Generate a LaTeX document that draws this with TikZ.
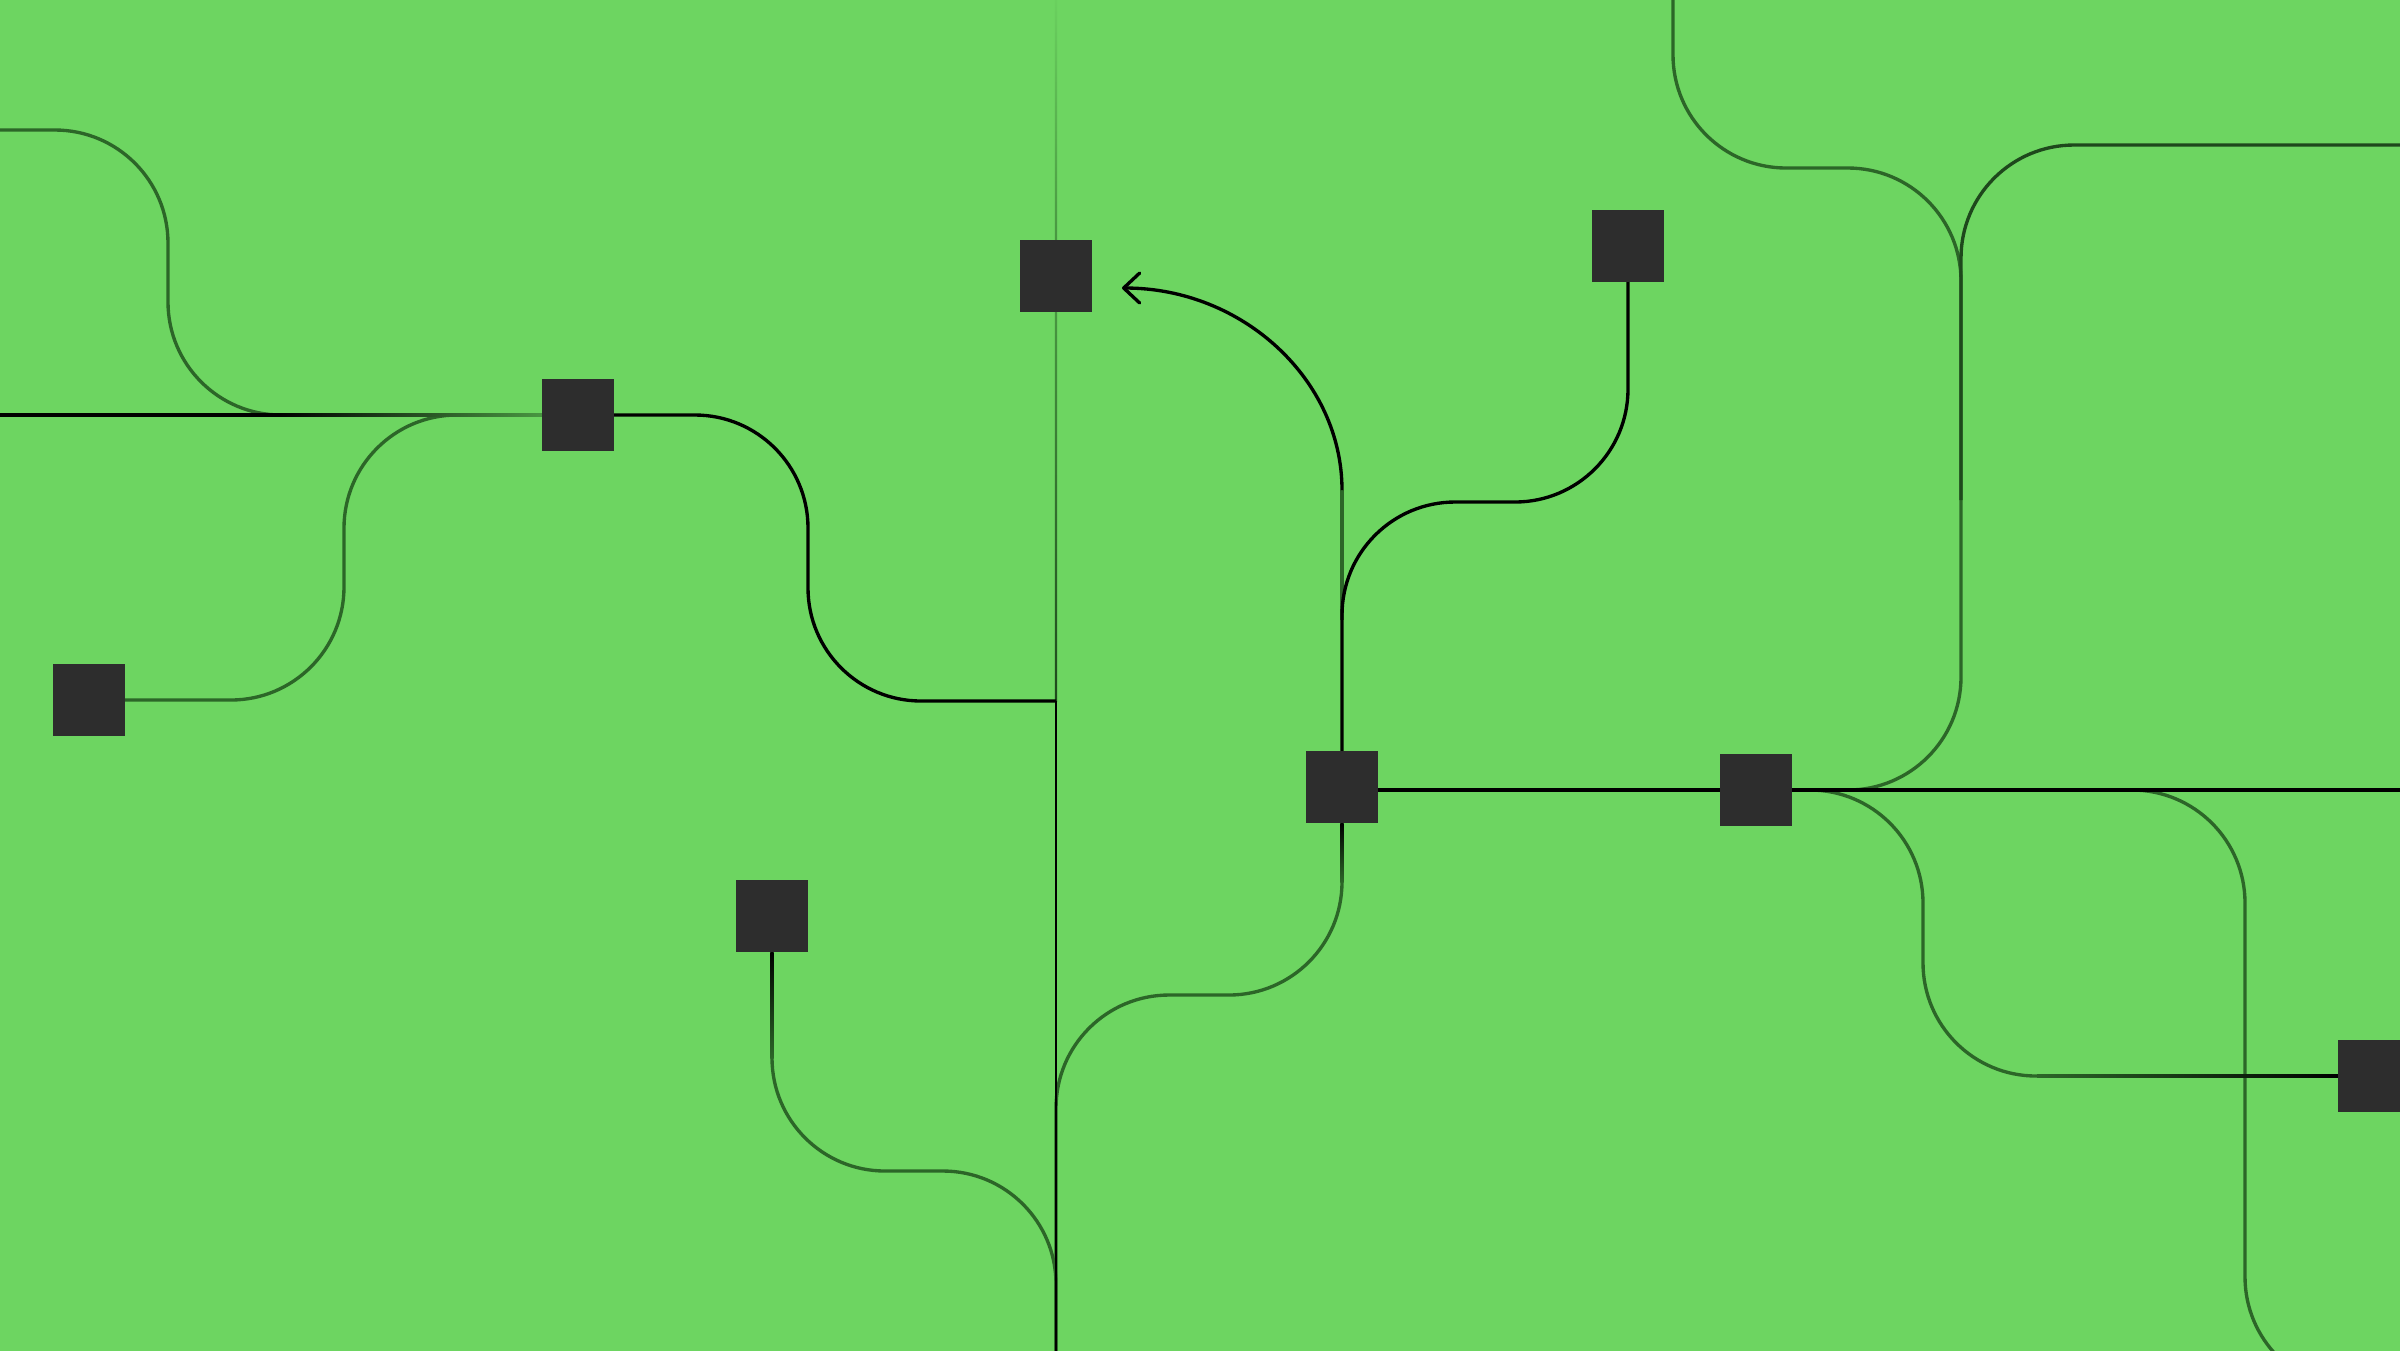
\documentclass[tikz,border=0pt]{standalone}
\usetikzlibrary{arrows.meta}
\definecolor{bg}{RGB}{109,213,97}
\definecolor{boxc}{RGB}{45,45,45}
\definecolor{dkg}{RGB}{44,102,40}
\definecolor{dkg2}{RGB}{30,72,28}
\definecolor{midg}{RGB}{72,150,65}
\pgfdeclarelayer{back}
\pgfdeclarelayer{lines}
\pgfsetlayers{back,lines,main}
\begin{document}
\begin{tikzpicture}[x=0.01cm,y=-0.01cm,
  box/.style={fill=boxc,draw=none,minimum size=0.72cm,inner sep=0pt,outer sep=0pt},
  gline/.style={draw=dkg,line width=0.95pt,rounded corners=1.13cm},
  bline/.style={draw=black,line width=0.95pt,rounded corners=1.13cm},
  arrline/.style={draw=black,line width=0.95pt,-{Straight Barb[length=1.6mm,width=3mm,round]}}
]
\useasboundingbox (0,0) rectangle (2400,1350);
\begin{pgfonlayer}{back}
  \fill[bg] (-20,-20) rectangle (2420,1380);
\end{pgfonlayer}
\clip (-20,-20) rectangle (2400,1380);

% boxes
\node[box] (A) at (578,415) {};
\node[box] (B) at (1056,276) {};
\node[box] (C) at (89,700) {};
\node[box] (D) at (772,916) {};
\node[box] (E) at (1628,246) {};
\node[box] (F) at (1342,787) {};
\node[box] (G) at (1756,790) {};
\node[box] (H) at (2374,1076) {};

\coordinate (l1s) at (-10,130);
\coordinate (l2s) at (-10,415);
\coordinate (vj) at (1056,701);
\coordinate (vb) at (1056,1380);
\coordinate (l11s) at (1673,-15);
\coordinate (l12s) at (2410,145);
\coordinate (rgt) at (2410,790);
\coordinate (tip) at (1122,288);

\begin{pgfonlayer}{lines}
  % dark green connectors
  \draw[gline] (l1s) -- (168,130) -- (168,415) -- (A.west);
  \draw[gline] (C.east) -- (344,700) -- (344,415) -- (A.west);
  \draw[gline] (D.south) -- (772,1171) -- (1056,1171) -- (vb);
  \draw[gline] (F.south) -- (1342,995) -- (1056,995) -- (vb);
  \draw[gline] (l11s) -- (1673,168) -- (1961,168) -- (1961,790) -- (G.east);
  \draw[gline,draw=dkg2] (l12s) -- (1961,145) -- (1961,500);
  \draw[gline] (G.east) -- (1923,790) -- (1923,1076) -- (H.west);
  \draw[gline] (2050,790) -- (2245,790) -- (2245,1390) -- (2500,1390);
  \draw[gline] (1342,620) -- (1342,490);

  % gradient pieces
  \fill[black] (l2s |- 0,413.3) rectangle (280,416.7);
  \shade[left color=black,right color=midg] (280,413.3) rectangle (542,416.7);
  \shade[top color=bg,bottom color=midg] (1054.8,-20) rectangle (1057.2,240);
  \shade[top color=midg,bottom color=dkg2] (1054.8,312) rectangle (1057.2,701);
  \draw[black,line width=0.8pt] (vj) -- (vb);
  \shade[top color=black,bottom color=dkg] (770.4,952) rectangle (773.6,1058);
  \shade[top color=black,bottom color=dkg] (1340.4,823) rectangle (1343.6,882);
  \shade[left color=dkg,right color=black] (2037,1074.3) rectangle (2338,1077.7);

  % black connectors
  \draw[bline] (A.east) -- (808,415) -- (808,701) -- (vj);
  \draw[bline] (F.north) -- (1342,502) -- (1628,502) -- (E.south);
  \draw[bline] (F.east |- G.west) -- (G.west);
  \draw[bline] (G.east) -- (rgt);
  \draw[arrline] (1342,490) .. controls (1342,380) and (1243,288) .. (tip);
\end{pgfonlayer}
\end{tikzpicture}
\end{document}
